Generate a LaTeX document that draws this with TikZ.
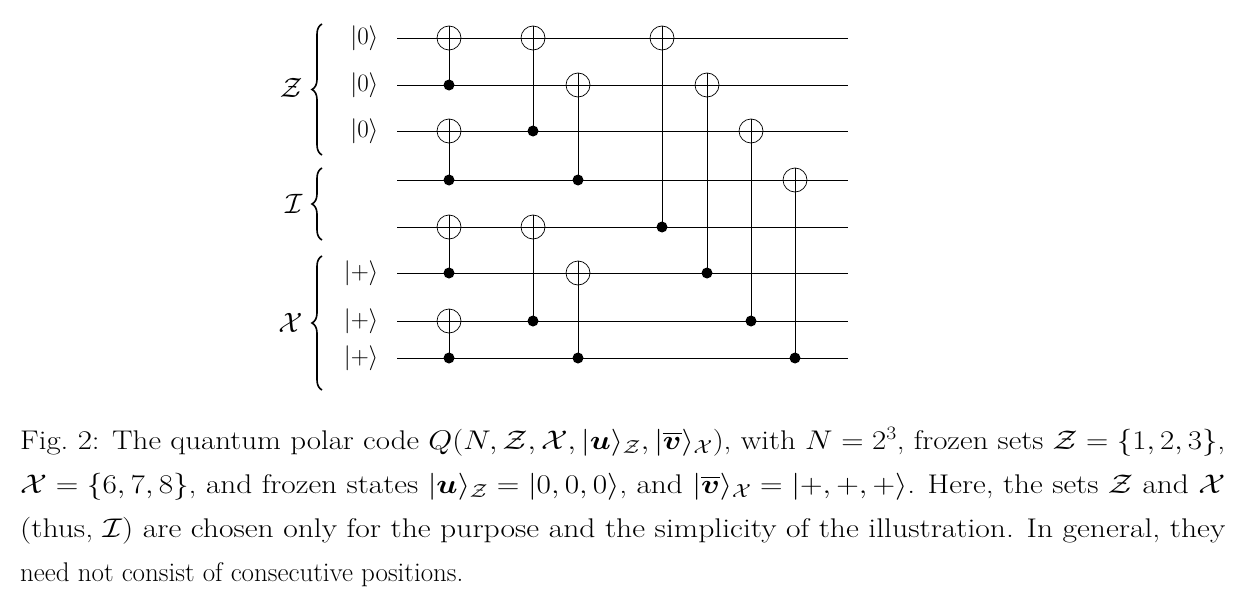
\RequirePackage{fix-cm}
\documentclass[tikz,border=0pt]{standalone}
\usepackage{amsmath,amssymb,graphicx}
\usetikzlibrary{decorations.pathreplacing}
\begin{document}
\begin{tikzpicture}[x=1pt,y=-1pt,
  wire/.style={line width=0.7pt},
  ctl/.style={circle,fill=black,inner sep=0pt,minimum size=11pt},
  tgt/.style={circle,draw,line width=0.7pt,inner sep=0pt,minimum size=24pt,fill=white},
  lbl/.style={font=\fontsize{25}{27}\selectfont,anchor=east},
  capl/.style={anchor=base west,inner sep=0pt,font=\fontsize{27}{30}\selectfont},
  brc/.style={decorate,decoration={brace,amplitude=10pt},line width=1.6pt}]
\useasboundingbox (0,0) rectangle (1242,602);
\foreach \i/\y in {1/38,2/85,3/131,4/180,5/227,6/273,7/321,8/358}{
  \coordinate (ws\i) at (397,\y); \coordinate (we\i) at (848,\y);
  \draw[wire] (ws\i) -- (we\i);}
\node[lbl] (k1) at (382,38) {$|0\rangle$};
\node[lbl] (k2) at (382,85) {$|0\rangle$};
\node[lbl] (k3) at (382,131) {$|0\rangle$};
\node[lbl] (k6) at (382,273) {$|+\rangle$};
\node[lbl] (k7) at (382,321) {$|+\rangle$};
\node[lbl] (k8) at (382,358) {$|+\rangle$};
\coordinate (bz1) at (322,155); \coordinate (bz2) at (322,24);
\coordinate (bi1) at (322,240); \coordinate (bi2) at (322,168);
\coordinate (bx1) at (322,390); \coordinate (bx2) at (322,256);
\draw[brc] (bz1) -- (bz2); \draw[brc] (bi1) -- (bi2); \draw[brc] (bx1) -- (bx2);
\node[lbl,font=\fontsize{28}{30}\selectfont] (Z) at (306,88) {$\mathcal{Z}$};
\node[lbl,font=\fontsize{28}{30}\selectfont] (I) at (306,204) {$\mathcal{I}$};
\node[lbl,font=\fontsize{28}{30}\selectfont] (X) at (306,323) {$\mathcal{X}$};
\foreach \n/\x/\t/\c in {a/449/1/2,b/449/3/4,c/449/5/6,d/449/7/8,e/533/1/3,f/533/5/7,g/578/2/4,h/578/6/8,i/662/1/5,j/707/2/6,k/751/3/7,l/795/4/8}{
  \pgfmathsetmacro\yt{{0,38,85,131,180,227,273,321,358}[\t]}
  \pgfmathsetmacro\yc{{0,38,85,131,180,227,273,321,358}[\c]}
  \node[ctl] (c\n) at (\x,\yc) {};
  \node[tgt] (t\n) at (\x,\yt) {};
  \draw[wire] (t\n.north) -- (c\n.center);
  \draw[wire] (t\n.west) -- (t\n.east);
}
\node[capl] (cap1) at (20,449) {\resizebox{1205pt}{\height}{Fig.~2: The quantum polar code $Q(N,\mathcal{Z},\mathcal{X},|\boldsymbol{u}\rangle_{\mathcal{Z}},|\overline{\boldsymbol{v}}\rangle_{\mathcal{X}})$, with $N=2^3$, frozen sets $\mathcal{Z}=\{1,2,3\}$,}};
\node[capl] (cap2) at (20,493) {\resizebox{1205pt}{\height}{$\mathcal{X}=\{6,7,8\}$, and frozen states $|\boldsymbol{u}\rangle_{\mathcal{Z}}=|0,0,0\rangle$, and $|\overline{\boldsymbol{v}}\rangle_{\mathcal{X}}=|+,+,+\rangle$. Here, the sets $\mathcal{Z}$ and $\mathcal{X}$}};
\node[capl] (cap3) at (20,537) {\resizebox{1205pt}{\height}{(thus, $\mathcal{I}$) are chosen only for the purpose and the simplicity of the illustration. In general, they}};
\node[capl] (cap4) at (20,581) {need not consist of consecutive positions.};
\end{tikzpicture}
\end{document}
